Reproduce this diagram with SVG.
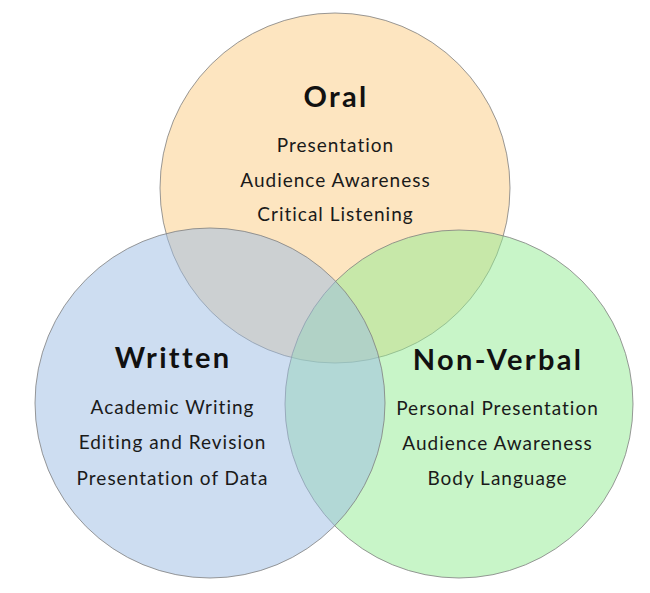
<svg xmlns="http://www.w3.org/2000/svg" width="650" height="593" viewBox="0 0 650 593">
<style>
.c{stroke:#7f7f7f;stroke-width:1;stroke-opacity:0.8}
.t{font-family:Lato,"Open Sans","Liberation Sans",sans-serif;font-weight:bold;font-size:29px;letter-spacing:2.3px;fill:#111;text-anchor:middle}
.i{font-family:Lato,"Open Sans","Liberation Sans",sans-serif;font-size:19px;letter-spacing:1px;fill:#1a1a1a;text-anchor:middle}
</style>
<rect width="650" height="593" fill="#fff"/>
<g id="oral">
<circle class="c" cx="335" cy="188" r="175" fill="rgb(251,203,129)" fill-opacity="0.5"/>
</g>
<g id="nonverbal">
<circle class="c" cx="459" cy="404" r="174" fill="rgb(145,235,145)" fill-opacity="0.5"/>
</g>
<g id="written">
<circle class="c" cx="210" cy="403" r="175" fill="rgb(155,187,227)" fill-opacity="0.5"/>
</g>
<g id="labels-oral">
<text class="t" x="336" y="107">Oral</text>
<text class="i" x="335.5" y="152">Presentation</text>
<text class="i" x="335.5" y="187">Audience Awareness</text>
<text class="i" x="335.5" y="221">Critical Listening</text>
</g>
<g id="labels-written">
<text class="t" x="173" y="368">Written</text>
<text class="i" x="172.5" y="414">Academic Writing</text>
<text class="i" x="172.5" y="449">Editing and Revision</text>
<text class="i" x="172.5" y="485">Presentation of Data</text>
</g>
<g id="labels-nonverbal">
<text class="t" x="498" y="370">Non-Verbal</text>
<text class="i" x="497.5" y="415">Personal Presentation</text>
<text class="i" x="497.5" y="450">Audience Awareness</text>
<text class="i" x="497.5" y="485">Body Language</text>
</g>
<g id="connectors"></g>
</svg>
